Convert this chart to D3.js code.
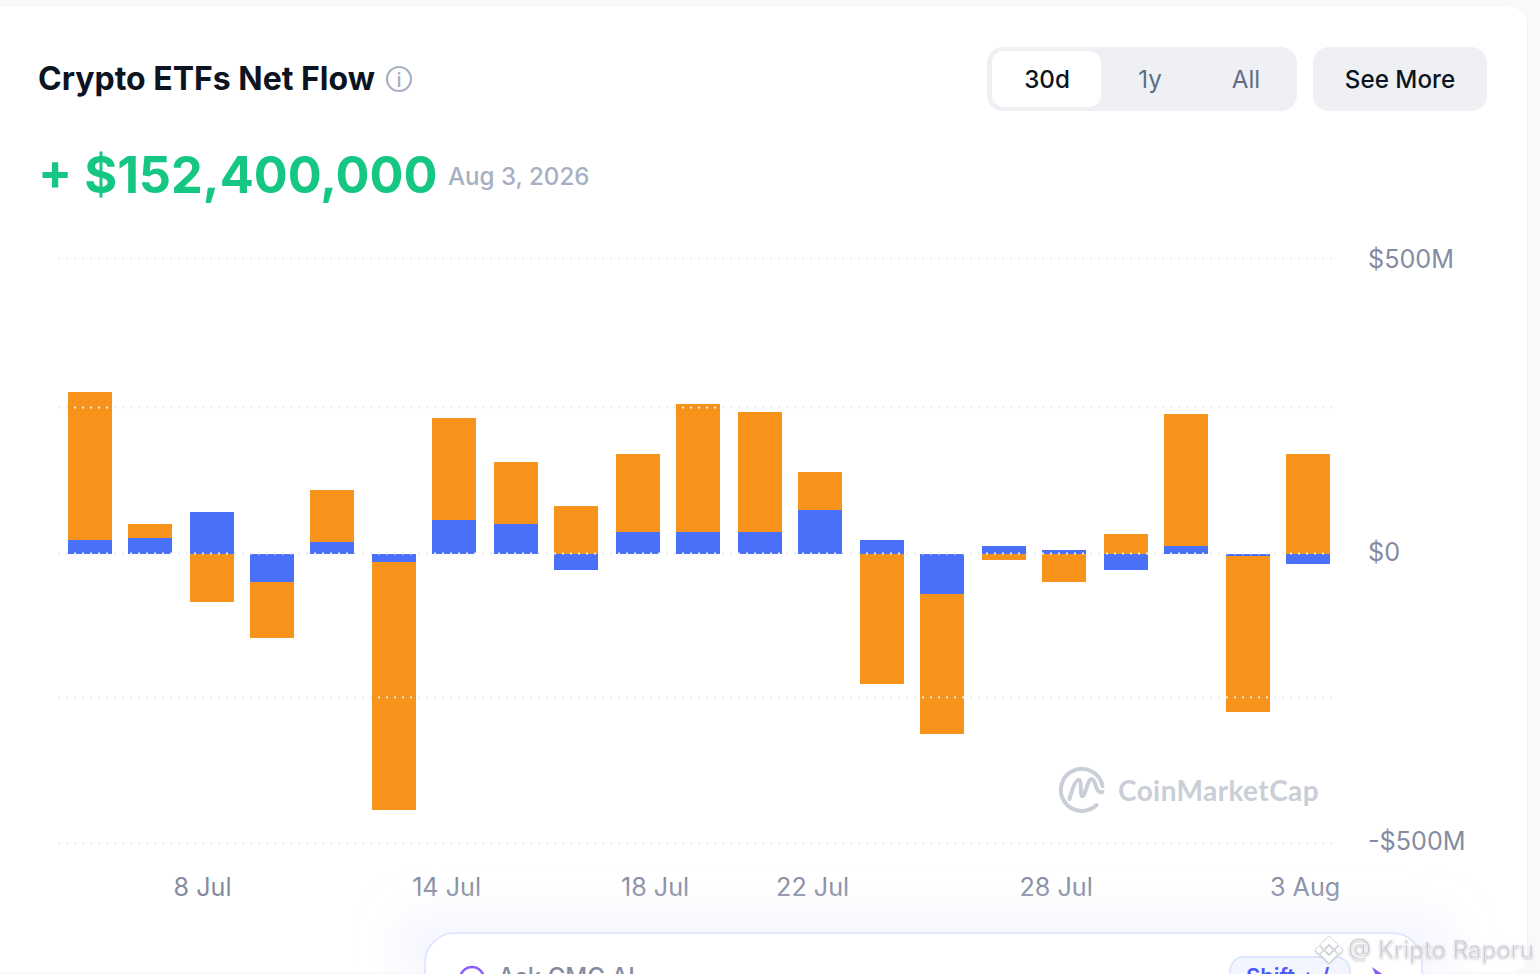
<!DOCTYPE html>
<html><head><meta charset="utf-8">
<script src="https://cdn.jsdelivr.net/npm/d3@7"></script>
<style>
html,body{margin:0;padding:0;background:#f8f9fb;overflow:hidden}
svg{display:block;font-family:Inter,"Noto Sans",sans-serif}
</style></head><body><svg id="c" width="1540" height="974"></svg>
<script>
const categories = ["6 Jul","7 Jul","8 Jul","9 Jul","10 Jul","13 Jul","14 Jul","15 Jul","16 Jul","17 Jul","20 Jul","21 Jul","22 Jul","23 Jul","24 Jul","27 Jul","28 Jul","29 Jul","30 Jul","31 Jul","3 Aug"];
const btcFlow = [253,24,-84,-98,89,-429,174,106,82,133,218,205,65,-226,-244,-10,-49,34,225,-272,170];
const ethFlow = [24,27,72,-49,21,-14,58,51,-28,38,38,38,75,24,-70,14,7,-28,14,-3,-17];
const yTicks = [-500,-250,0,250,500];
const yTickLabels = {"-500":"-$500M","0":"$0","500":"$500M"};
const xTickLabels = ["8 Jul","14 Jul","18 Jul","22 Jul","28 Jul","3 Aug"];
const xTickSlots = [1.86,5.865,9.285,11.87,15.865,19.95];

const svg = d3.select("#c");
const defs = svg.append("defs");
const blur = defs.append("filter").attr("id","soft").attr("x","-10%").attr("y","-100%").attr("width","120%").attr("height","300%");
blur.append("feGaussianBlur").attr("stdDeviation",18);
const blur2 = defs.append("filter").attr("id","sh").attr("x","-20%").attr("y","-20%").attr("width","140%").attr("height","140%");
blur2.append("feDropShadow").attr("dx",0).attr("dy",1).attr("stdDeviation",1).attr("flood-color","#b9bcc4").attr("flood-opacity",0.8);

// card
svg.append("rect").attr("x",-20).attr("y",7).attr("width",1547).attr("height",965).attr("rx",18).attr("fill","#fff");
svg.append("rect").attr("x",1527).attr("y",20).attr("width",1).attr("height",940).attr("fill","#f1f2f5");

// header
svg.append("text").attr("x",38).attr("y",90).attr("font-size",32).attr("font-weight",700).attr("fill","#0d1421").text("Crypto ETFs Net Flow");
const info = svg.append("g").attr("transform","translate(399,79)");
info.append("circle").attr("r",12).attr("fill","none").attr("stroke","#a6b0c3").attr("stroke-width",2.2);
info.append("text").attr("text-anchor","middle").attr("y",7.5).attr("font-size",20).attr("font-weight",500).attr("fill","#a6b0c3").text("i");

svg.append("text").attr("x",38).attr("y",193).attr("font-size",50.4).attr("font-weight",700).attr("fill","#16c784").text("+ $152,400,000");
svg.append("text").attr("x",448).attr("y",184.5).attr("font-size",24.1).attr("font-weight",500).attr("fill","#a6b0c3").text("Aug 3, 2026");

// toggles
svg.append("rect").attr("x",987).attr("y",47).attr("width",310).attr("height",64).attr("rx",16).attr("fill","#eff0f4");
svg.append("rect").attr("x",992).attr("y",51).attr("width",109).attr("height",56).attr("rx",12).attr("fill","#fff");
svg.append("rect").attr("x",1313).attr("y",47).attr("width",174).attr("height",64).attr("rx",16).attr("fill","#eff0f4");
[["30d",1047,"#0d1421",500],["1y",1150,"#616e85",400],["All",1246,"#616e85",400],["See More",1400,"#0d1421",500]].forEach(d=>{
  svg.append("text").attr("x",d[1]).attr("y",87.5).attr("text-anchor","middle").attr("font-size",24.2).attr("font-weight",d[3]).attr("fill",d[2]).text(d[0]);
});

// scales
const x = d3.scaleBand().domain(categories).range([67.15,1330.15]).paddingInner(0.2781).paddingOuter(0);
const y = d3.scaleLinear().domain(yTicks).range([843,697.5,554,407.5,258.5]);
const slotX = d3.scaleLinear().domain([0,categories.length-1]).range([x(categories[0])+x.bandwidth()/2,x(categories[categories.length-1])+x.bandwidth()/2]);
const snap = v => Math.round(v/2)*2;

// bars
const rows = categories.map((c,i)=>({c,btc:btcFlow[i],eth:ethFlow[i]}));
const bars = svg.append("g").attr("shape-rendering","crispEdges");
function segs(d){
  const out=[];let pos=0,neg=0;
  [["eth","#4a6ff9"],["btc","#f7931a"]].forEach(([k,col])=>{
    const v=d[k];
    if(v>=0){out.push({a:pos,b:pos+v,col});pos+=v;}else{out.push({a:neg,b:neg+v,col});neg+=v;}
  });
  return out;
}
bars.selectAll("g").data(rows).join("g").selectAll("rect").data(d=>segs(d).map(s=>({...s,c:d.c}))).join("rect")
 .attr("x",d=>snap(x(d.c))).attr("width",Math.round(x.bandwidth()))
 .attr("y",d=>snap(Math.min(y(d.a),y(d.b)))).attr("height",d=>snap(Math.max(y(d.a),y(d.b)))-snap(Math.min(y(d.a),y(d.b)))).attr("fill",d=>d.col);

// grid over bars
svg.append("g").selectAll("line").data(yTicks).join("line")
 .attr("x1",58).attr("x2",1333).attr("y1",d=>y(d)-(d===0?0.5:0)).attr("y2",d=>y(d)-(d===0?0.5:0))
 .attr("stroke","#eaecef").attr("stroke-width",2).attr("stroke-dasharray","2 6");

// y labels
svg.append("g").selectAll("text").data(yTicks.filter(t=>yTickLabels[t])).join("text")
 .attr("x",1368).attr("y",d=>y(d)+(d>0?9:7)).attr("font-size",25.2).attr("fill","#858ca2").text(d=>yTickLabels[d]);

// x labels
svg.append("g").selectAll("text").data(xTickLabels).join("text")
 .attr("x",(d,i)=>slotX(xTickSlots[i])).attr("y",896).attr("text-anchor","middle").attr("font-size",25.2).attr("fill","#858ca2").text(d=>d);

// CoinMarketCap watermark
const wm = svg.append("g").attr("transform","translate(1082.5,789)");
wm.append("path").attr("d","M14 16 A21 21 0 1 1 20 -3 M-13 10 C-10 -1 -7 -9 -4 -9 C0 -9 -3 7 0 7 C3 7 5 -10 9 -10 C14 -10 12 5 20 3")
 .attr("fill","none").attr("stroke","#c9ced7").attr("stroke-width",4).attr("stroke-linecap","round");
svg.append("text").attr("x",1118).attr("y",801).attr("font-size",28).attr("font-weight",700).attr("font-family","Lato,Inter,sans-serif").attr("letter-spacing",0.4).attr("fill","#c9ced7").text("CoinMarketCap");

// bottom panel
svg.append("rect").attr("x",395).attr("y",912).attr("width",1060).attr("height",70).attr("rx",30).attr("fill","#f6f6ff").attr("filter","url(#soft)");
svg.append("rect").attr("x",425).attr("y",933).attr("width",997).attr("height",70).attr("rx",30).attr("fill","#fff").attr("stroke","#e2e6ff").attr("stroke-width",2);
svg.append("circle").attr("cx",472).attr("cy",979).attr("r",12).attr("fill","none").attr("stroke","#8a5cf6").attr("stroke-width",2.5);
svg.append("text").attr("x",498).attr("y",985).attr("font-size",24).attr("font-weight",500).attr("fill","#858ca2").text("Ask CMC AI");
svg.append("rect").attr("x",1230).attr("y",957).attr("width",120).attr("height",40).attr("rx",14).attr("fill","#f4f6ff").attr("stroke","#dfe4ff").attr("stroke-width",2);
svg.append("text").attr("x",1246).attr("y",984).attr("font-size",22).attr("font-weight",600).attr("fill","#4d5bf9").text("Shift + /");
svg.append("path").attr("d","M1372 967 L1398 985 L1380 985 Z").attr("fill","#8a5cf6");

// overlaid watermark
const wk = svg.append("g").attr("fill","#fff").attr("stroke","#d8dadf").attr("stroke-width",1).attr("filter","url(#sh)");
wk.append("path").attr("d","M1329 936 L1338 945 L1334 949 L1329 944 L1324 949 L1320 945 Z");
wk.append("path").attr("d","M1319 946 L1323 950 L1319 954 L1315 950 Z");
wk.append("path").attr("d","M1339 946 L1343 950 L1339 954 L1335 950 Z");
wk.append("path").attr("d","M1329 946 L1333 950 L1329 954 L1325 950 Z");
wk.append("path").attr("d","M1329 963 L1320 954 L1324 951 L1329 956 L1334 951 L1338 954 Z");
svg.append("text").attr("x",1348).attr("y",958).attr("font-size",24).attr("fill","#c9cbd1").attr("stroke","#fff").attr("stroke-width",0.4).attr("filter","url(#sh)").text("@ Kripto Raporu");
</script></body></html>
